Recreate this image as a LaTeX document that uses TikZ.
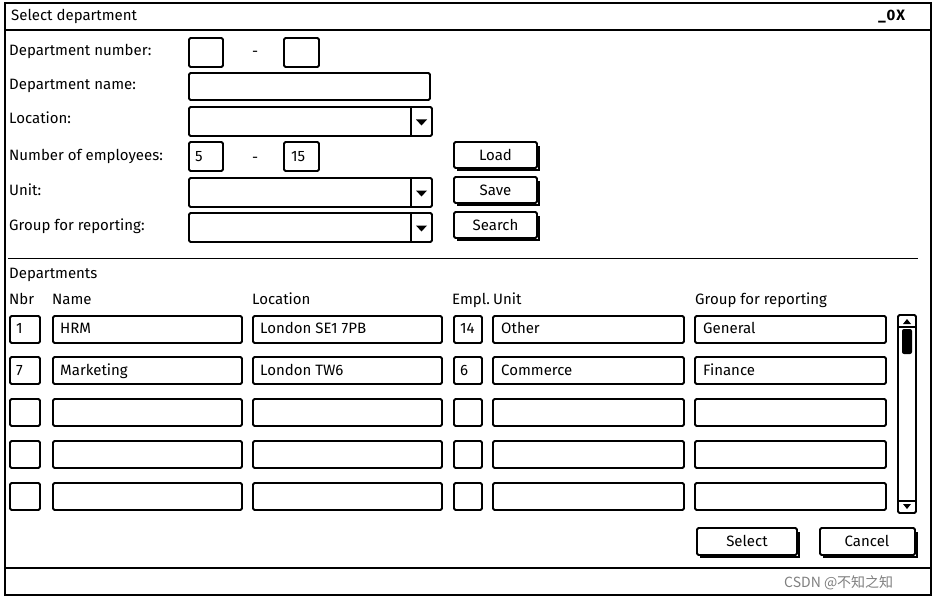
\documentclass[tikz,border=0pt]{standalone}
\usepackage{fontspec}
\setmainfont{Fira Sans}
\newfontfamily\cjk{Noto Sans CJK SC}
\begin{document}
\begin{tikzpicture}[x=1pt,y=-1pt,
 box/.style={draw,line width=1.8pt,rounded corners=1.5pt,fill=white},
 lab/.style={anchor=base west,inner sep=0pt,yshift=-5pt,font=\fontsize{15}{16}\selectfont},
 bt/.style={font=\fontsize{15}{16}\selectfont,inner sep=0pt},
]
\useasboundingbox[fill=white] (0,0) rectangle (936,599);
\draw[line width=2pt] (5,3) rectangle (931,595);
\draw[line width=1.5pt] (5,30) -- (931,30);
\draw[line width=1.5pt] (5,568) -- (931,568);
\node[lab] (title) at (11,16) {Select department};
\node[lab,font=\bfseries\fontsize{15}{16}\selectfont] (icons) at (878,16) {\_\kern0.5pt 0\kern1pt X};
\draw[line width=0.8pt] (8,258) -- (918,258);
% labels
\node[lab] (l1) at (9,51) {Department number:};
\node[lab] (l2) at (9,85) {Department name:};
\node[lab] (l3) at (9,119) {Location:};
\node[lab] (l4) at (9,155) {Number of employees:};
\node[lab] (l5) at (9,190) {Unit:};
\node[lab] (l6) at (9,225) {Group for reporting:};
% fields
\draw[box] (189,38) rectangle (223,67);
\draw[box] (284,38) rectangle (319,67);
\node[lab] (d1) at (252,52) {-};
\draw[box] (189,73) rectangle (430,100);
\foreach \t/\b in {107/136,178/207,213/242}{
 \draw[box] (189,\t) rectangle (432,\b);
 \draw[line width=1.5pt] (411,\t) -- (411,\b);
 \fill (416,\t/2+\b/2-2) -- (427,\t/2+\b/2-2) -- (421.5,\t/2+\b/2+4) -- cycle;
}
\draw[box] (189,142) rectangle (223,171);
\node[lab] (e1) at (195,156) {5};
\draw[box] (284,142) rectangle (319,171);
\node[lab] (e2) at (291,156) {15};
\node[lab] (d2) at (252,157) {-};
% buttons
\foreach \t/\txt in {142/Load,177/Save,212/Search}{
 \draw[line width=2.5pt] (457,\t+28) -- (539,\t+28) -- (539,\t+4);
 \draw[box] (454,\t) rectangle (537,\t+26);
 \node[bt] at (495.5,\t+13) {\txt};
}
% table
\node[lab] (dep) at (9,273) {Departments};
\node[lab] (h1) at (9,299) {Nbr};
\node[lab] (h2) at (52,299) {Name};
\node[lab] (h3) at (252,299) {Location};
\node[lab] (h4) at (452,299) {Empl.};
\node[lab] (h5) at (493,299) {Unit};
\node[lab] (h6) at (695,299) {Group for reporting};
\foreach \t in {316,357,399,441,483}{
 \draw[box] (10,\t) rectangle (40,\t+27);
 \draw[box] (53,\t) rectangle (242,\t+27);
 \draw[box] (253,\t) rectangle (442,\t+27);
 \draw[box] (454,\t) rectangle (482,\t+27);
 \draw[box] (493,\t) rectangle (684,\t+27);
 \draw[box] (695,\t) rectangle (886,\t+27);
}
\node[lab] (r11) at (16,328) {1};
\node[lab] (r12) at (60,328) {HRM};
\node[lab] (r13) at (260,328) {London SE1 7PB};
\node[lab] (r14) at (460,328) {14};
\node[lab] (r15) at (501,328) {Other};
\node[lab] (r16) at (703,328) {General};
\node[lab] (r21) at (16,370) {7};
\node[lab] (r22) at (60,370) {Marketing};
\node[lab] (r23) at (260,370) {London TW6};
\node[lab] (r24) at (460,370) {6};
\node[lab] (r25) at (501,370) {Commerce};
\node[lab] (r26) at (703,370) {Finance};
% scrollbar
\draw[box] (898,315) rectangle (916,513);
\draw[line width=1.2pt] (898,327) -- (916,327);
\draw[line width=1.2pt] (898,501) -- (916,501);
\fill (903,324) -- (911,324) -- (907,319) -- cycle;
\fill (903,504) -- (911,504) -- (907,509) -- cycle;
\fill[rounded corners=2pt] (902,329) rectangle (912,354);
% bottom buttons
\draw[line width=2.5pt] (700,557) -- (799,557) -- (799,532);
\draw[box] (697,528) rectangle (797,555);
\node[bt] (sel) at (747,541) {Select};
\draw[line width=2.5pt] (823,557) -- (917,557) -- (917,532);
\draw[box] (820,528) rectangle (915,555);
\node[bt] (can) at (867,541) {Cancel};
\node[lab,text=gray,font=\fontsize{14}{15}\cjk] (wm) at (784,582) {CSDN @不知之知};
\end{tikzpicture}
\end{document}
